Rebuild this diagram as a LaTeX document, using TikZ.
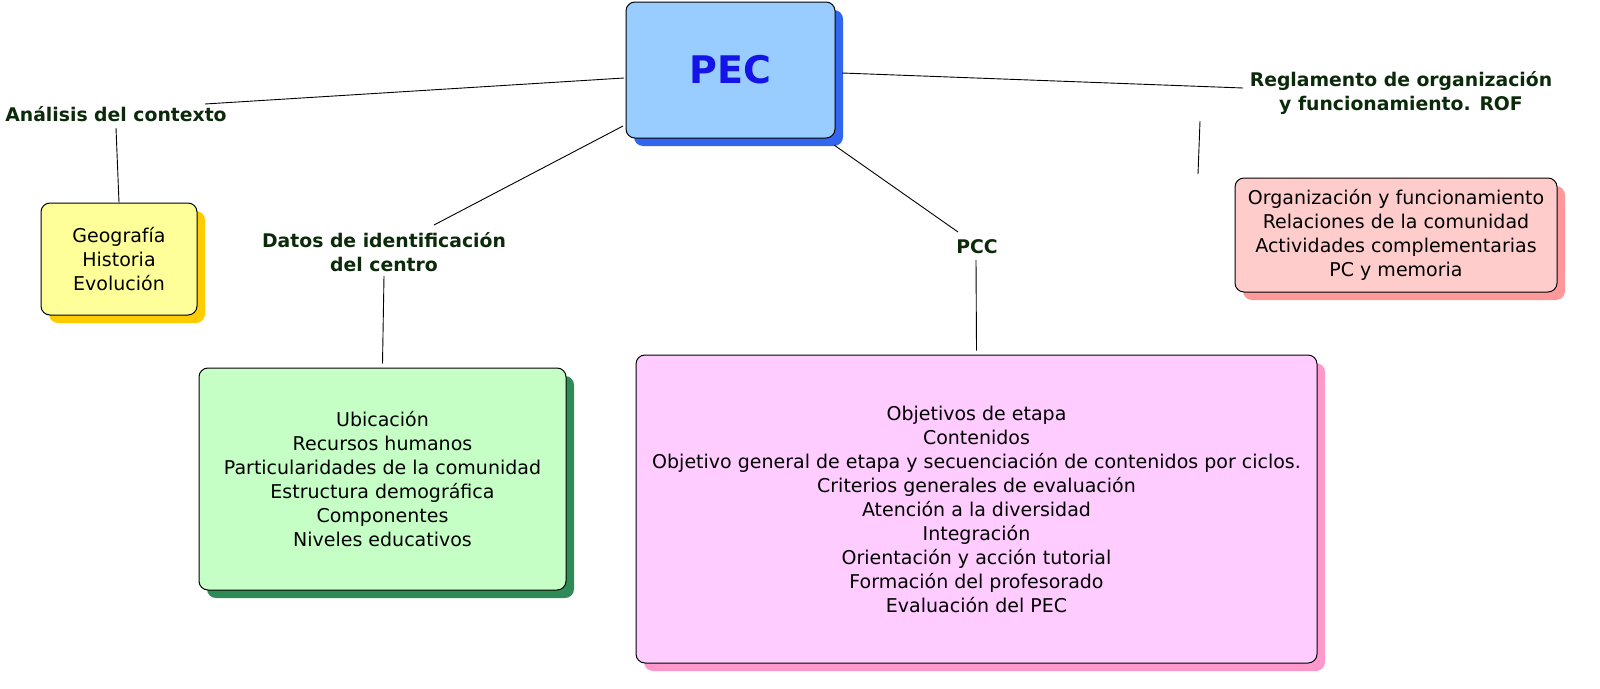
\documentclass[tikz,border=0pt]{standalone}
\usepackage{fontspec}
\setmainfont{DejaVu Sans}
\definecolor{lbl}{HTML}{0A2A0A}
\begin{document}
\begin{tikzpicture}[x=1pt,y=1pt,
  box/.style={draw=black,line width=1pt,rounded corners=9pt,align=center,font=\fontsize{19}{24}\selectfont,inner sep=0pt},
  lab/.style={align=center,font=\fontsize{18.8}{24}\selectfont\bfseries,text=lbl,inner sep=2pt},
  ln/.style={draw=black,line width=0.9pt}]
\useasboundingbox (0,0) rectangle (1600,-688);
% shadows
\fill[rounded corners=9pt,fill={rgb,255:red,51;green,102;blue,238}] (634,-10) rectangle (843,-146);
\fill[rounded corners=9pt,fill={rgb,255:red,255;green,204;blue,0}] (49,-211) rectangle (205,-323);
\fill[rounded corners=9pt,fill={rgb,255:red,46;green,139;blue,87}] (207,-376) rectangle (574,-598);
\fill[rounded corners=9pt,fill={rgb,255:red,255;green,153;blue,204}] (644,-363) rectangle (1325,-671);
\fill[rounded corners=9pt,fill={rgb,255:red,255;green,153;blue,153}] (1243,-186) rectangle (1565,-300);
\node[box,fill={rgb,255:red,153;green,204;blue,255},minimum width=209pt,minimum height=136pt,font=\fontsize{38}{44}\selectfont\bfseries,text={rgb,255:red,20;green,20;blue,230}] (pec) at (730.5,-70) {PEC};
\node[box,fill={rgb,255:red,255;green,255;blue,153},minimum width=156pt,minimum height=112pt] (geo) at (119,-259) {Geografía\\Historia\\Evolución};
\node[box,fill={rgb,255:red,198;green,255;blue,198},minimum width=367pt,minimum height=222pt] (dat) at (382.5,-479) {Ubicación\\Recursos humanos\\Particularidades de la comunidad\\Estructura demográfica\\Componentes\\Niveles educativos};
\node[box,fill={rgb,255:red,255;green,204;blue,255},minimum width=681pt,minimum height=308pt] (pcc) at (976.5,-509) {Objetivos de etapa\\Contenidos\\Objetivo general de etapa y secuenciación de contenidos por ciclos.\\Criterios generales de evaluación\\Atención a la diversidad\\Integración\\Orientación y acción tutorial\\Formación del profesorado\\Evaluación del PEC};
\node[box,fill={rgb,255:red,255;green,204;blue,204},minimum width=322pt,minimum height=114pt] (rof) at (1396,-235) {Organización y funcionamiento\\Relaciones de la comunidad\\Actividades complementarias\\PC y memoria};
\node[lab] (l1) at (116,-114) {Análisis del contexto};
\node[lab] (l2) at (384,-252) {Datos de identificación\\del centro};
\node[lab] (l3) at (977,-247) {PCC};
\node[lab] (l4) at (1401,-93) {Reglamento de organización\\y funcionamiento. ROF};
\coordinate (p1) at (624,-78); \coordinate (p2) at (623,-126); \coordinate (p3) at (834,-145); \coordinate (p4) at (842,-73);
\coordinate (q1) at (205,-104); \coordinate (q2) at (434,-225); \coordinate (q3) at (958,-232); \coordinate (q4) at (1243,-88);
\coordinate (r1) at (1200,-121); \coordinate (r2) at (1198,-174);
\draw[ln] (p1) -- (q1);
\draw[ln] (116,-128) -- (geo.north);
\draw[ln] (p2) -- (q2);
\draw[ln] (384,-276) -- ([yshift=4pt]dat.north);
\draw[ln] (p3) -- (q3);
\draw[ln] (976,-260) -- ([yshift=4pt]pcc.north);
\draw[ln] (p4) -- (q4);
\draw[ln] (r1) -- (r2);
\end{tikzpicture}
\end{document}
